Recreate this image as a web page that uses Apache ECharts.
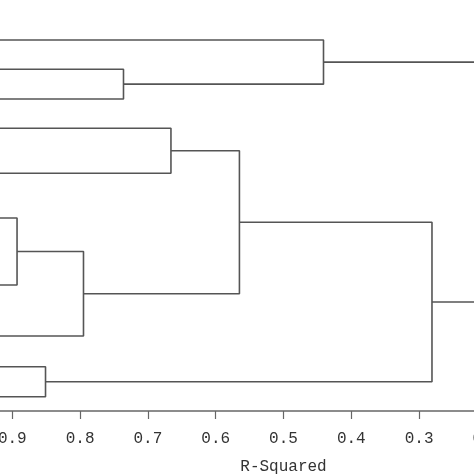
<!DOCTYPE html>
<html>
<head>
<meta charset="utf-8">
<script src="https://cdn.jsdelivr.net/npm/echarts@6/dist/echarts.min.js"></script>
<style>html,body{margin:0;padding:0;background:#fff;}#c{width:474px;height:474px;}</style>
</head>
<body>
<div id="c"></div>
<script>
// Leaf vertical positions (arbitrary units top→bottom)
var leafNames = ['L1','L2','L3','L4','L5','L6','L7','L8','L9','L10'];
var leafPos   = [40, 69.3, 99, 128.3, 173.3, 218, 285, 336, 366.7, 396.7];
var leafHeight = 1.0; // R-squared of a single leaf
// Merges: [child1, child2, R-squared at merge]; children are leaf names or earlier merge names
var mergeNames   = ['A','B','C','D','E','F','G','H','Root'];
var mergeLeft    = ['L2','L1','L4','L6','D','C','L9','F','B'];
var mergeRight   = ['L3','A','L5','L7','L8','E','L10','G','H'];
var mergeHeights = [0.736, 0.441, 0.666, 0.893, 0.795, 0.565, 0.851, 0.281, 0.15];

var nodes = {};
leafNames.forEach(function (n, i) { nodes[n] = { y: leafPos[i], h: leafHeight }; });
var series = [];
mergeNames.forEach(function (n, i) {
  var a = nodes[mergeLeft[i]], b = nodes[mergeRight[i]], h = mergeHeights[i];
  nodes[n] = { y: (a.y + b.y) / 2, h: h };
  series.push({
    type: 'line',
    data: [[a.h, a.y], [h, a.y], [h, b.y], [b.h, b.y]],
    symbol: 'none',
    silent: true,
    lineStyle: { color: '#555', width: 1.6 }
  });
});

var chart = echarts.init(document.getElementById('c'), null, { renderer: 'canvas' });
chart.setOption({
  animation: false,
  backgroundColor: '#fff',
  grid: { left: -55.5, width: 678, top: 0, height: 411, containLabel: false, outerBoundsMode: 'none' },
  xAxis: {
    type: 'value',
    inverse: true,
    min: 0, max: 1.0, interval: 0.1,
    splitLine: { show: false },
    axisLine: { show: true, onZero: false, lineStyle: { color: '#666', width: 1.6 } },
    axisTick: { show: true, length: 8, lineStyle: { color: '#666', width: 1.2 } },
    axisLabel: {
      margin: 20,
      fontFamily: 'Liberation Mono',
      fontSize: 16,
      color: '#333',
      hideOverlap: false,
      formatter: function (v) { return v.toFixed(1); }
    },
    name: 'R-Squared',
    nameLocation: 'middle',
    nameGap: 48,
    nameTextStyle: { fontFamily: 'Liberation Mono', fontSize: 16, color: '#333' }
  },
  yAxis: {
    type: 'value', inverse: true, min: 0, max: 411, show: false
  },
  series: series
});
</script>
</body>
</html>
